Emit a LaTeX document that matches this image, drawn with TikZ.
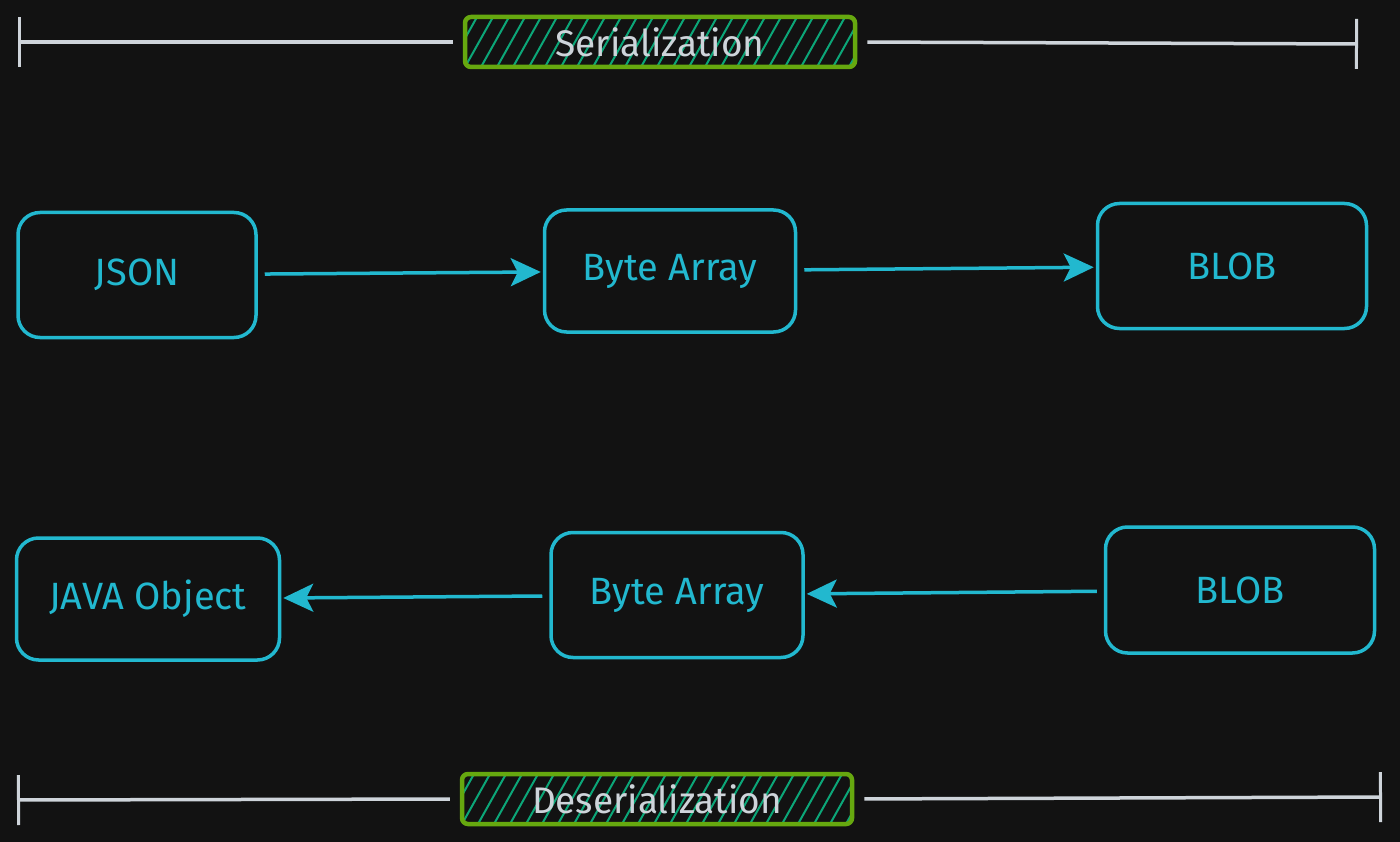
\documentclass[tikz,border=0pt]{standalone}
\usepackage{fontspec}
\setmainfont{Fira Sans}
\usetikzlibrary{positioning,arrows.meta}
\definecolor{bgdark}{HTML}{121212}
\definecolor{boxcyan}{HTML}{22B8CF}
\definecolor{bandgreen}{HTML}{66A80F}
\definecolor{hatchgreen}{HTML}{0CA678}
\definecolor{rulegray}{HTML}{CED4DA}

\begin{document}
\begin{tikzpicture}[x=1pt,y=-1pt]
\tikzstyle{block}=[rectangle, rounded corners=22pt, line width=3.5pt, draw=boxcyan, text=boxcyan, font=\fontsize{38}{42}\selectfont]
\tikzstyle{band}=[rectangle, rounded corners=6pt, line width=4.5pt, draw=bandgreen, text=rulegray, minimum width=390pt, minimum height=50pt, font=\fontsize{37}{42}\selectfont,
  path picture={\foreach \k in {-3,...,25} \draw[hatchgreen, line width=2pt] ([xshift=\k*16pt]path picture bounding box.south west) -- ++(28pt,50pt);}]
\tikzstyle{rule}=[line width=3.5pt, draw=rulegray, {Bar[width=50pt,line width=3pt]}-, shorten >=10pt]
\tikzstyle{flow}=[line width=3.5pt, draw=boxcyan, -{Stealth[length=30pt,width=28pt,inset=7pt]}, shorten <=7pt, shorten >=2pt]

\useasboundingbox (0,0) rectangle (1400,842);
\fill[bgdark] (0,0) rectangle (1400,842);

% serialization
\node[band] (serial) at (660,42) {Serialization};
\coordinate (serL) at (18,42);
\coordinate (serR) at (1358,44);
\draw[rule] (serL) -- (serial.west);
\draw[rule] (serR) -- (serial.east);

\node[block, minimum width=238pt, minimum height=125pt] (json) at (137,275) {JSON};
\node[block, minimum width=251pt, minimum height=122pt] (byteA) at (670,271) {Byte Array};
\node[block, minimum width=269pt, minimum height=125pt] (blobA) at (1232,266) {BLOB};

\draw[flow] (json) -- (byteA);
\draw[flow] (byteA) -- (blobA);

% deserialization
\node[block, minimum width=263pt, minimum height=122pt] (java) at (148,599) {JAVA Object};
\node[block, minimum width=252pt, minimum height=125pt] (byteB) at (677,595) {Byte Array};
\node[block, minimum width=269pt, minimum height=126pt] (blobB) at (1240,590) {BLOB};

\draw[flow] (blobB) -- (byteB);
\draw[flow] (byteB) -- (java);

\node[band] (deserial) at (657,799) {Deserialization};
\coordinate (desL) at (17,800);
\coordinate (desR) at (1382,797);
\draw[rule] (desL) -- (deserial.west);
\draw[rule] (desR) -- (deserial.east);

\end{tikzpicture}
\end{document}
